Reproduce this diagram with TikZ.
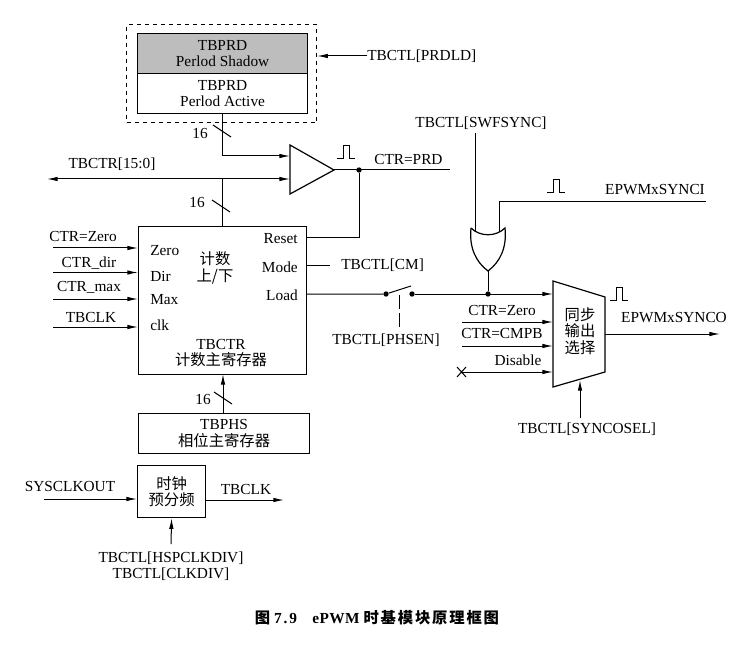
\documentclass[tikz,border=0pt]{standalone}
\usepackage{fontspec}
\setmainfont{Liberation Serif}
\newfontfamily\cjk{Noto Sans CJK SC}
\newfontfamily\capcjk[LetterSpace=12]{Noto Sans CJK SC}
\newfontfamily\capser[LetterSpace=12]{Liberation Serif}
\newfontfamily\capword[LetterSpace=3]{Liberation Serif}
\usetikzlibrary{arrows.meta}
\tikzset{
  sig/.style={-{Latex[length=8pt,width=3.4pt]}, line width=0.75pt},
  wire/.style={line width=0.75pt},
  regbox/.style={draw, line width=0.9pt, inner sep=0pt, anchor=north west, align=center},
  lab/.style={inner sep=0pt, font=\fontsize{11.5}{12.2}\selectfont, align=center},
  dot/.style={circle, fill=black, inner sep=0pt, minimum size=4pt},
  pics/pulsemark/.style={code={\draw[wire] (0,0)--(6,0)--(6,-13)--(12,-13)--(12,0)--(18,0);}},
  pics/bustick/.style={code={\draw[wire] (0,0)--(18,12);}}
}
\begin{document}
\begin{tikzpicture}[x=0.75pt,y=-0.75pt]
    \useasboundingbox (0,0) rectangle (756,645);

    % period registers
    \node[regbox, dashed, minimum width=142.5pt, minimum height=73.5pt] (dashbox) at (126,24) {};
    \node[regbox, fill=black!26, minimum width=127.5pt, minimum height=30pt, lab, line width=0.9pt] (shadow) at (137,33) {TBPRD\\Perlod Shadow};
    \node[regbox, minimum width=127.5pt, minimum height=30pt, lab, line width=0.9pt] (active) at (137,73) {TBPRD\\Perlod Active};
    \node[lab, anchor=west] (prdld) at (367,56) {TBCTL[PRDLD]};
    \draw[sig] (prdld.west) -- (prdld.west -| dashbox.east);

    % comparator
    \coordinate (cmpA) at (290,145);
    \coordinate (cmpB) at (290,194);
    \coordinate (cmpO) at (334,170);
    \draw[wire, line width=0.9pt] (cmpA)--(cmpO)--(cmpB)--cycle;
    \coordinate (cmpIn) at (290,156);
    \coordinate (busIn) at (290,179);
    \coordinate (busL) at (47,179);
    \draw[sig] (active.south -| 222,0) |- (cmpIn);
    \draw[sig, {Latex[length=8pt,width=3.4pt]}-{Latex[length=8pt,width=3.4pt]}] (busL) -- (busIn);
    \node[lab] (bus) at (112,164) {TBCTR[15:0]};
    \node[lab] (n16a) at (200,134) {16};
    \node[lab] (n16b) at (197,202) {16};
    \pic at (213,125) {bustick};
    \pic at (212,200) {bustick};
    \pic at (337,159) {pulsemark};
    \node[lab, anchor=west] (prd) at (374,160) {CTR=PRD};
    \coordinate (prdEnd) at (450,170);
    \draw[wire] (cmpO) -- (prdEnd);
    \node[dot] (prdDot) at (359,170) {};

    % counter
    \node[regbox, minimum width=126pt, minimum height=111pt] (ctr) at (138,226) {};
    \draw[wire] (222,179) -- (222,226);
    \draw[wire] (prdDot) |- (ctr.north east |- 0,238);
    \foreach \yy/\name/\lx/\ly/\txt in {248/inZero/83/236/CTR=Zero, 272.5/inDir/89/263/CTR\_dir, 299/inMax/89/287/CTR\_max, 327/inClk/91/317/TBCLK}{
      \coordinate (\name) at (53,\yy);
      \draw[sig] (\name) -- (\name -| ctr.west);
      \node[lab] (\name L) at (\lx,\ly) {\txt};
    }
    \node[lab, anchor=west] (pZero) at (150,251) {Zero};
    \node[lab, anchor=west] (pDir) at (150,276) {Dir};
    \node[lab, anchor=west] (pMax) at (150,300) {Max};
    \node[lab, anchor=west] (pClk) at (150,325) {clk};
    \node[lab, anchor=east] (pReset) at (298,239) {Reset};
    \node[lab, anchor=east] (pMode) at (298,267) {Mode};
    \node[lab, anchor=east] (pLoad) at (298,295) {Load};
    \node[lab] (ctrMid) at (215,268) {\cjk 计数\\\cjk 上/下};
    \node[lab] (ctrName) at (221,353) {TBCTR\\\cjk 计数主寄存器};

    \node[lab, anchor=west] (cm) at (341,265) {TBCTL[CM]};
    \draw[wire] (ctr.east |- cm) -- ++(23,0);

    % load switch
    \node[dot] (swA) at (386,294) {};
    \node[dot] (swB) at (412,294) {};
    \coordinate (swTip) at (411,286);
    \draw[wire] (ctr.east |- swA) -- (swA) -- (swTip);
    \draw[wire] (399,295) -- (399,309) (399,313) -- (399,327);
    \node[lab] (phsen) at (386,340) {TBCTL[PHSEN]};

    % phase register
    \node[regbox, minimum width=128.25pt, minimum height=30pt, lab] (phs) at (138,413) {TBPHS\\\cjk 相位主寄存器};
    \draw[sig] (phs.north -| 223,0) -- (223,374);
    \node[lab] (n16c) at (203,399) {16};
    \pic at (214,392) {bustick};

    % clock prescaler
    \node[regbox, minimum width=51pt, minimum height=39pt, lab] (presc) at (137,465) {\cjk 时钟\\\cjk 预分频};
    \node[lab] (sysclk) at (70,486) {SYSCLKOUT};
    \coordinate (sysIn) at (44,499);
    \draw[sig] (sysIn) -- (sysIn -| presc.west);
    \coordinate (clkOut) at (284,500);
    \draw[sig] (presc.east |- clkOut) -- (clkOut);
    \node[lab] (tbclk) at (246,489) {TBCLK};
    \node[lab] (clkdiv) at (171,566) {TBCTL[HSPCLKDIV]\\TBCTL[CLKDIV]};
    \coordinate (divUp) at (171,544);
    \draw[sig] (divUp) -- (presc.south);

    % sync or gate
    \coordinate (orL) at (471,228);
    \coordinate (orR) at (505,228);
    \coordinate (orT) at (488,271);
    \draw[wire, line width=0.9pt] (orL) .. controls (480,237) and (496,237) .. (orR)
      .. controls (507,248) and (500,262) .. (orT)
      .. controls (476,262) and (469,248) .. (orL);
    \node[lab] (swf) at (481,123) {TBCTL[SWFSYNC]};
    \draw[wire] (475,133) -- (475,232);
    \node[lab] (synci) at (655,190) {EPWMxSYNCI};
    \coordinate (synciEnd) at (706,202);
    \draw[wire] (499,232) |- (synciEnd);
    \pic at (547,193) {pulsemark};

    % sync mux
    \coordinate (muxA) at (553,281);
    \coordinate (muxB) at (605,297);
    \coordinate (muxC) at (605,372);
    \coordinate (muxD) at (553,387);
    \draw[wire, line width=0.9pt] (muxA)--(muxB)--(muxC)--(muxD)--cycle;
    \node[lab] (muxName) at (580,331) {\cjk 同步\\\cjk 输出\\\cjk 选择};
    \node[dot] (orDot) at (488,294) {};
    \draw[wire] (orT) -- (orDot);
    \draw[sig] (swB) -- (553,294);
    \foreach \yy/\name/\lx/\ly/\txt in {322/inCZ/502/310/CTR=Zero, 346/inCC/502/333/CTR=CMPB}{
      \coordinate (\name) at (462,\yy);
      \draw[sig] (\name) -- (553,\yy);
      \node[lab] (\name L) at (\lx,\ly) {\txt};
    }
    \coordinate (inDis) at (461,372);
    \draw[sig] (inDis) -- (553,372);
    \draw[wire] (inDis) ++(-4,-5) -- ++(9,10) (inDis) ++(5,-5) -- ++(-9,10);
    \node[lab] (disable) at (518,360) {Disable};
    \coordinate (syncoEnd) at (720,334);
    \draw[sig] (605,334) -- (syncoEnd);
    \node[lab] (synco) at (674,318) {EPWMxSYNCO};
    \pic at (610,300) {pulsemark};
    \node[lab] (syncosel) at (587,429) {TBCTL[SYNCOSEL]};
    \draw[sig] (580,418) -- (580,380);

    % caption
    \node[inner sep=0pt, font=\bfseries\fontsize{11.5}{12}\selectfont] (caption) at (377,618) {{\capcjk 图} {\capser 7.9}\quad {\capword ePWM} {\capcjk 时基模块原理框图}};
\end{tikzpicture}
\end{document}
